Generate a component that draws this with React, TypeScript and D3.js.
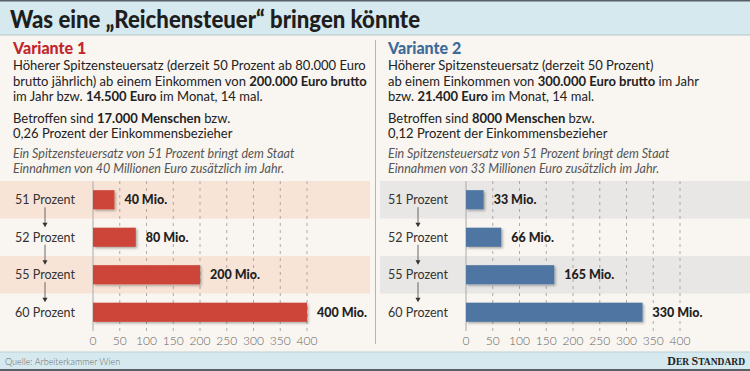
import React from "react";
import * as d3 from "d3";

const title = "Was eine „Reichensteuer“ bringen könnte";
const rates = ["51 Prozent", "52 Prozent", "55 Prozent", "60 Prozent"];
const variante1 = [40, 80, 200, 400];
const variante2 = [33, 66, 165, 330];
const tickValues = [0, 50, 100, 150, 200, 250, 300, 350, 400];
const source = "Quelle: Arbeiterkammer Wien";

type Seg = { t: string; b?: boolean };
const text1: Seg[][] = [
  [{ t: "Höherer Spitzensteuersatz (derzeit 50 Prozent ab 80.000 Euro" }],
  [{ t: "brutto jährlich) ab einem Einkommen von " }, { t: "200.000 Euro brutto", b: true }],
  [{ t: "im Jahr bzw. " }, { t: "14.500 Euro", b: true }, { t: " im Monat, 14 mal." }],
  [{ t: "Betroffen sind " }, { t: "17.000 Menschen", b: true }, { t: " bzw." }],
  [{ t: "0,26 Prozent der Einkommensbezieher" }],
];
const italic1 = [
  "Ein Spitzensteuersatz von 51 Prozent bringt dem Staat",
  "Einnahmen von 40 Millionen Euro zusätzlich im Jahr.",
];
const text2: Seg[][] = [
  [{ t: "Höherer Spitzensteuersatz (derzeit 50 Prozent)" }],
  [{ t: "ab einem Einkommen von " }, { t: "300.000 Euro brutto", b: true }, { t: " im Jahr" }],
  [{ t: "bzw. " }, { t: "21.400 Euro", b: true }, { t: " im Monat, 14 mal." }],
  [{ t: "Betroffen sind " }, { t: "8000 Menschen", b: true }, { t: " bzw." }],
  [{ t: "0,12 Prozent der Einkommensbezieher" }],
];
const italic2 = [
  "Ein Spitzensteuersatz von 51 Prozent bringt dem Staat",
  "Einnahmen von 33 Millionen Euro zusätzlich im Jahr.",
];

const FONT = "Lato, 'Open Sans', sans-serif";
const lineY = [70, 85.5, 101, 123, 138];
const italY = [158, 172.5];

function Panel(props: {
  x0: number;
  heading: string;
  headColor: string;
  lines: Seg[][];
  italics: string[];
  values: number[];
  barColor: string;
  bandColor: string;
  bandX: [number, number];
  labelCx: number;
  axisX: number;
}) {
  const { x0, heading, headColor, lines, italics, values, barColor, bandColor, bandX, labelCx, axisX } = props;
  const x = d3.scaleLinear().domain([0, 400]).range([axisX, axisX + 214]);
  const y = d3.scaleBand<string>().domain(rates).range([181, 331]).paddingInner(0.49).paddingOuter(0.245);
  const step = y.step();
  const rowTop = (r: string) => (y(r) as number) - (step - y.bandwidth()) / 2;
  return (
    <g>
      <text x={x0} y={53.5} fontFamily={FONT} fontWeight={900} fontSize={16} fill={headColor}>
        {heading}
      </text>
      {lines.map((segs, i) => (
        <text key={i} x={x0} y={lineY[i]} fontFamily={FONT} fontSize={13} fill="#222">
          {segs.map((s, j) => (
            <tspan key={j} fontWeight={s.b ? 700 : 400}>
              {s.t}
            </tspan>
          ))}
        </text>
      ))}
      {italics.map((t, i) => (
        <text key={i} x={x0} y={italY[i]} fontFamily={FONT} fontStyle="italic" fontSize={12.5} fill="#555">
          {t}
        </text>
      ))}
      {rates.map((r, i) =>
        i % 2 === 0 ? (
          <rect key={r} x={bandX[0]} y={rowTop(r)} width={bandX[1] - bandX[0]} height={step} fill={bandColor} />
        ) : null
      )}
      <line x1={x(0)} x2={x(0)} y1={181} y2={331} stroke="#aaa" strokeWidth={1} />
      {tickValues.slice(1).map((t) => (
        <line key={t} x1={x(t)} x2={x(t)} y1={181} y2={331} stroke="#999" strokeWidth={0.8} strokeDasharray="3,4" />
      ))}
      {rates.map((r, i) => {
        const yc = (y(r) as number) + y.bandwidth() / 2;
        return (
          <g key={r}>
            <text x={labelCx} y={yc + 4.5} textAnchor="middle" fontFamily={FONT} fontSize={12.5} fill="#333">
              {r}
            </text>
            <rect
              x={x(0)}
              y={y(r)}
              width={x(values[i]) - x(0)}
              height={y.bandwidth()}
              fill={barColor}
              filter="url(#shadow)"
            />
            <text x={x(values[i]) + 10} y={yc + 4.5} fontFamily={FONT} fontWeight={900} fontSize={12.5} fill="#222">
              {values[i]} Mio.
            </text>
            {i < rates.length - 1 ? (
              <g>
                <line x1={labelCx} x2={labelCx} y1={yc + 7.5} y2={yc + step - 12} stroke="#444" strokeWidth={0.8} />
                <path
                  d={`M${labelCx - 2.5},${yc + step - 14.5} L${labelCx + 2.5},${yc + step - 14.5} L${labelCx},${yc + step - 10} Z`}
                  fill="#333"
                />
              </g>
            ) : null}
          </g>
        );
      })}
      {tickValues.map((t) => (
        <text key={t} x={x(t)} y={345} textAnchor="middle" fontFamily={FONT} fontWeight={300} fontSize={12} fill="#666">
          {t}
        </text>
      ))}
    </g>
  );
}

export default function App() {
  return (
    <svg
      width={750}
      height={371}
      style={{ position: "absolute", left: 0, top: 0, display: "block" }}
      xmlns="http://www.w3.org/2000/svg"
    >
      <defs>
        <filter id="shadow" x="-10%" y="-30%" width="130%" height="180%">
          <feDropShadow dx={1.5} dy={1.5} stdDeviation={1} floodColor="#000" floodOpacity={0.3} />
        </filter>
      </defs>
      <rect x={0} y={0} width={750} height={371} fill="#f9f5f0" />
      <rect x={0} y={0} width={750} height={35} fill="#d5e9ef" />
      <rect x={0} y={0} width={750} height={1.5} fill="#5a6166" />
      <line x1={0} x2={750} y1={35} y2={35} stroke="#b7c7cc" strokeWidth={1} />
      <text x={10} y={27.5} fontFamily={FONT} fontWeight={900} fontSize={24} fill="#1e1e1e" textLength={410} lengthAdjust="spacingAndGlyphs">
        {title}
      </text>
      <line x1={375.5} x2={375.5} y1={40} y2={344} stroke="#b5b5b5" strokeWidth={1} />
      <Panel
        x0={13}
        heading="Variante 1"
        headColor="#c0272d"
        lines={text1}
        italics={italic1}
        values={variante1}
        barColor="#cd4538"
        bandColor="#f8e4d7"
        bandX={[0, 370]}
        labelCx={45}
        axisX={93}
      />
      <Panel
        x0={388}
        heading="Variante 2"
        headColor="#3e6a99"
        lines={text2}
        italics={italic2}
        values={variante2}
        barColor="#4f75a2"
        bandColor="#e8e7e5"
        bandX={[380, 750]}
        labelCx={418}
        axisX={466}
      />
      <rect x={0} y={352} width={750} height={17} fill="#d5e9ef" />
      <line x1={0} x2={750} y1={352} y2={352} stroke="#bcd0d5" strokeWidth={1} />
      <rect x={0} y={369} width={750} height={2} fill="#5a6166" />
      <text x={5} y={365} fontFamily={FONT} fontWeight={300} fontSize={9} fill="#6a6a6a">
        {source}
      </text>
      <text x={745} y={365} textAnchor="end" fontFamily="'Liberation Serif', 'DejaVu Serif', serif" fontWeight={700} fill="#222">
        <tspan fontSize={12}>D</tspan>
        <tspan fontSize={9.5}>ER </tspan>
        <tspan fontSize={12}>S</tspan>
        <tspan fontSize={9.5}>TANDARD</tspan>
      </text>
    </svg>
  );
}
